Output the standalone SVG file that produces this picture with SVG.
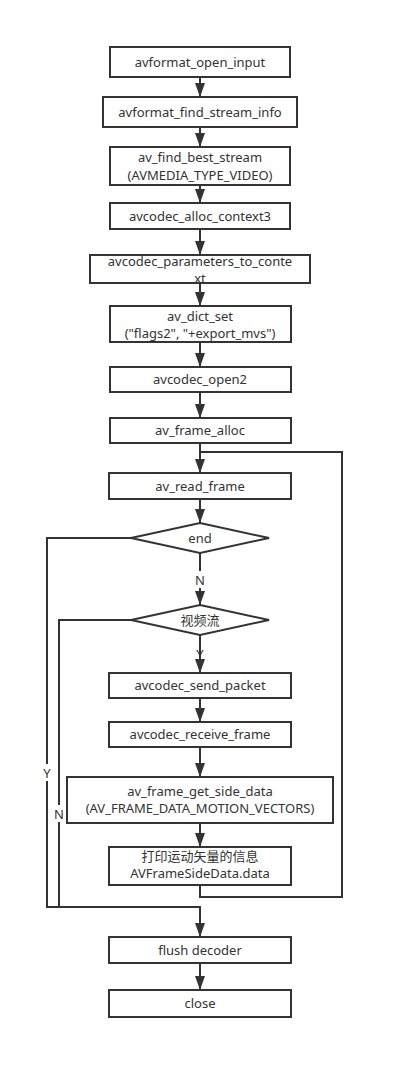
<svg xmlns="http://www.w3.org/2000/svg" width="404" height="1078" viewBox="0 0 404 1078">
<style>
.box{fill:#fff;stroke:#333;stroke-width:2}
.t{font-family:"Noto Sans","Noto Sans CJK SC",sans-serif;font-size:13px;fill:#333;text-anchor:middle}
.c{fill:none;stroke:#333;stroke-width:2}
.lbl{fill:#fff}
</style>
<defs>
<marker id="ah" viewBox="0 0 14 10" refX="14" refY="5" markerWidth="14" markerHeight="10" markerUnits="userSpaceOnUse" orient="auto">
<path d="M0,0 L14,5 L0,10 z" fill="#333"/>
</marker>
</defs>
<rect width="404" height="1078" fill="#fff"/>
<g id="connectors">
<path class="c" d="M200,77 V97" marker-end="url(#ah)"/>
<path class="c" d="M200,127 V147" marker-end="url(#ah)"/>
<path class="c" d="M200,185 V203" marker-end="url(#ah)"/>
<path class="c" d="M200,229 V255" marker-end="url(#ah)"/>
<path class="c" d="M200,283 V306" marker-end="url(#ah)"/>
<path class="c" d="M200,342 V367" marker-end="url(#ah)"/>
<path class="c" d="M200,392 V418" marker-end="url(#ah)"/>
<path class="c" d="M200,443 V473" marker-end="url(#ah)"/>
<path class="c" d="M200,885 V897 H342 V452 H200"/>
<path class="c" d="M200,499 V523" marker-end="url(#ah)"/>
<path class="c" d="M200,553 V605" marker-end="url(#ah)"/>
<path class="c" d="M200,698 V722" marker-end="url(#ah)"/>
<path class="c" d="M200,747 V777" marker-end="url(#ah)"/>
<path class="c" d="M200,823 V847" marker-end="url(#ah)"/>
<path class="c" d="M131,538 H47 V907 H200 V937" marker-end="url(#ah)"/>
<path class="c" d="M131,620 H59 V907"/>
<path class="c" d="M200,963 V990" marker-end="url(#ah)"/>
<rect class="lbl" x="194" y="571" width="12" height="17"/>
<text class="t" x="200" y="585">N</text>
<rect class="lbl" x="194" y="645" width="12" height="17"/>
<text class="t" x="200" y="659">Y</text>
<path class="c" d="M200,635 V673" marker-end="url(#ah)"/>
<rect class="lbl" x="41" y="764" width="12" height="17"/>
<text class="t" x="47" y="778">Y</text>
<rect class="lbl" x="53" y="805" width="12" height="17"/>
<text class="t" x="59" y="819">N</text>
</g>
<g id="n1"><rect class="box" x="110" y="47" width="180" height="30"/><text class="t" x="200" y="66.5">avformat_open_input</text></g>
<g id="n2"><rect class="box" x="103" y="97" width="194" height="30"/><text class="t" x="200" y="116.5">avformat_find_stream_info</text></g>
<g id="n3"><rect class="box" x="110" y="147" width="180" height="38"/><text class="t" x="200" y="162">av_find_best_stream</text><text class="t" x="200" y="179.5">(AVMEDIA_TYPE_VIDEO)</text></g>
<g id="n4"><rect class="box" x="110" y="203" width="180" height="26"/><text class="t" x="200" y="220.5">avcodec_alloc_context3</text></g>
<g id="n5"><rect class="box" x="90" y="255" width="220" height="28"/><text class="t" x="200" y="266">avcodec_parameters_to_conte</text><text class="t" x="200" y="283">xt</text></g>
<g id="n6"><rect class="box" x="110" y="306" width="181" height="36"/><text class="t" x="200" y="321">av_dict_set</text><text class="t" x="200" y="338">("flags2", "+export_mvs")</text></g>
<g id="n7"><rect class="box" x="110" y="367" width="181" height="25"/><text class="t" x="200" y="384">avcodec_open2</text></g>
<g id="n8"><rect class="box" x="110" y="418" width="181" height="25"/><text class="t" x="200" y="435">av_frame_alloc</text></g>
<g id="n9"><rect class="box" x="109" y="473" width="182" height="26"/><text class="t" x="200" y="490.5">av_read_frame</text></g>
<g id="n10"><polygon class="box" points="200,523 269,538 200,553 131,538"/><text class="t" x="200" y="542.5">end</text></g>
<g id="n11"><polygon class="box" points="200,605 269,620 200,635 131,620"/><text class="t" x="200" y="624.5">视频流</text></g>
<g id="n12"><rect class="box" x="109" y="673" width="182" height="25"/><text class="t" x="200" y="690">avcodec_send_packet</text></g>
<g id="n13"><rect class="box" x="109" y="722" width="182" height="25"/><text class="t" x="200" y="739">avcodec_receive_frame</text></g>
<g id="n14"><rect class="box" x="67" y="777" width="266" height="46"/><text class="t" x="200" y="796">av_frame_get_side_data</text><text class="t" x="200" y="813">(AV_FRAME_DATA_MOTION_VECTORS)</text></g>
<g id="n15"><rect class="box" x="109" y="847" width="182" height="38"/><text class="t" x="200" y="861">打印运动矢量的信息</text><text class="t" x="200" y="878">AVFrameSideData.data</text></g>
<g id="n16"><rect class="box" x="109" y="937" width="182" height="26"/><text class="t" x="200" y="954.5">flush decoder</text></g>
<g id="n17"><rect class="box" x="109" y="990" width="182" height="27"/><text class="t" x="200" y="1008">close</text></g>
</svg>
